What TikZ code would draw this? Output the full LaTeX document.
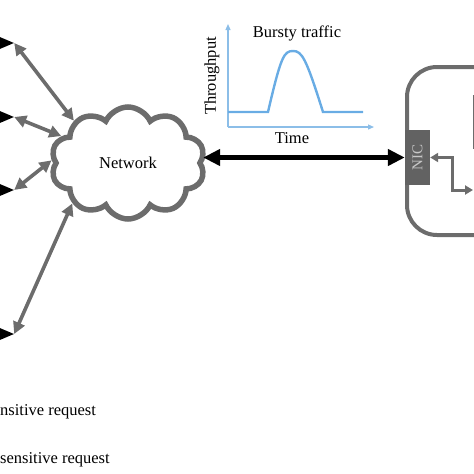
\documentclass[tikz,border=0pt]{standalone}
\usepackage{graphicx}
\usepackage{fontspec}
\setmainfont{Liberation Serif}
\usetikzlibrary{arrows.meta,shapes.geometric,shapes.symbols}
\definecolor{netgray}{RGB}{108,108,108}
\definecolor{nicgray}{RGB}{98,98,98}
\definecolor{plotblue}{RGB}{105,172,228}
\definecolor{axisblue}{RGB}{140,190,232}

\begin{document}
\begin{tikzpicture}[x=1pt, y=-1pt,
	every node/.style={font=\fontsize{16.5}{19}\selectfont},
	client/.style={diamond, fill=black, minimum width=28pt, minimum height=12pt, inner sep=0pt},
	link/.style={draw=netgray, line width=3.6pt, {Triangle[length=12pt,width=12pt]}-{Triangle[length=12pt,width=12pt]}},
	biglink/.style={draw=black, line width=5pt, {Triangle[length=17pt,width=16pt]}-{Triangle[length=17pt,width=16pt]}},
	smalllink/.style={draw=netgray, line width=3pt, {Triangle[length=8pt,width=9pt]}-{Triangle[length=8pt,width=9pt]}},
	axis/.style={draw=axisblue, line width=1.2pt, -{Triangle[length=6pt,width=5pt]}}]
	\useasboundingbox (0,0) rectangle (474,474);
	\clip (0,0) rectangle (474,474);

			\node[client] (c1) at (0,43) {};
			\node[client] (c2) at (0,117) {};
			\node[client] (c3) at (0,190) {};
			\node[client] (c4) at (0,334) {};
			\node[cloud, draw=netgray, line width=5.5pt, cloud puffs=10, cloud puff arc=130, aspect=1.4, minimum width=154pt, minimum height=112pt] (net) at (128,163) {Network};

			\draw[draw=netgray, line width=4pt, rounded corners=30pt] (407,67) rectangle (580,235);
			\node[draw=netgray, line width=3.5pt, minimum width=60pt, minimum height=50pt, anchor=north west] (app) at (473,95) {};
			\node[fill=nicgray, text=white!78!black, minimum width=25pt, minimum height=55pt, inner sep=0pt, font=\fontsize{15}{17}\selectfont] (nic) at (417.5,157.5) {\rotatebox{90}{NIC}};
			\coordinate (mem) at (473,190);

			\path
			  (c1.east) edge[link] (net.142)
			  (c2.east) edge[link] (net.158)
			  (c3.east) edge[link] (net.178)
			  (c4.east) edge[link] (net.216)
			  (net.east |- nic.west) edge[biglink] (nic.west);
			\draw[smalllink] (nic.east) -- ++(22,0) |- (mem);

			\coordinate (o) at (228,127);
			\draw[axis] (o) -- ++(0,-103);
			\draw[axis] (o) -- ++(146,0);
			\draw[plotblue, line width=2.4pt] (228,112) -- (268,112) .. controls (281,56) and (284,51) .. (293,51) .. controls (302,51) and (306,58) .. (323,112) -- (363,112);
			\node (burst) at (297,33) {Bursty traffic};
			\node[rotate=90] (thr) at (212,76) {Throughput};
			\node (time) at (292,138) {Time};

			\node[anchor=base west, inner sep=0pt] (ls) at (0,415) {nsitive request};
			\node[anchor=base west, inner sep=0pt] (li) at (0,463) {sensitive request};
\end{tikzpicture}
\end{document}
